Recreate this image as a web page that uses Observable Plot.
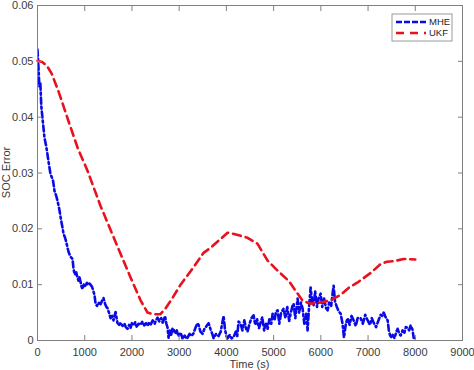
<!DOCTYPE html>
<html>
<head>
<meta charset="utf-8">
<script src="https://cdn.jsdelivr.net/npm/d3@7"></script>
<script src="https://cdn.jsdelivr.net/npm/@observablehq/plot@0.6"></script>
<style>
  html, body { margin: 0; padding: 0; background: #fff; }
  #chart svg { display: block; font-family: "Liberation Sans", Arial, sans-serif; }
</style>
</head>
<body>
<div id="chart"></div>
<script>
const seriesNames = ["MHE", "UKF"];
const xTicks = [0, 1000, 2000, 3000, 4000, 5000, 6000, 7000, 8000, 9000];
const yTicks = [0, 0.01, 0.02, 0.03, 0.04, 0.05, 0.06];
const xLabel = "Time (s)";
const yLabel = "SOC Error";

const ukf = [[0,0.0501],[100,0.0499],[200,0.0492],[300,0.0478],[450,0.0445],[636,0.0398],[850,0.0345],[1059,0.0304],[1335,0.0241],[1695,0.0168],[1970,0.0113],[2182,0.0072],[2330,0.0050],[2450,0.0047],[2600,0.0047],[2700,0.0056],[2850,0.0075],[3030,0.0100],[3250,0.0125],[3517,0.0157],[3665,0.0166],[3850,0.0180],[4025,0.0193],[4200,0.0190],[4449,0.0184],[4661,0.0173],[4873,0.0143],[5085,0.0125],[5318,0.0107],[5508,0.0084],[5614,0.0071],[5784,0.0066],[5996,0.0068],[6208,0.0072],[6419,0.0082],[6600,0.0095],[6780,0.0104],[7055,0.0121],[7267,0.0137],[7400,0.0141],[7542,0.0142],[7754,0.0146],[8000,0.0145]];

const mhe = [[0,0.0521],[20,0.049],[40,0.0455],[60,0.0462],[80,0.042],[106,0.0398],[130,0.0378],[148,0.0363],[175,0.0352],[200,0.0340],[230,0.0322],[275,0.0298],[300,0.0293],[330,0.0286],[360,0.0268],[400,0.0258],[424,0.0250],[460,0.0236],[500,0.0215],[530,0.0202],[551,0.0191],[580,0.0185],[610,0.0176],[636,0.0166],[660,0.0158],[700,0.0150],[742,0.0146],[763,0.0128],[790,0.0118],[820,0.0122],[847,0.0112],[870,0.0107],[890,0.0113],[911,0.0105],[935,0.0096],[953,0.0092],[980,0.0100],[1010,0.0098],[1040,0.0104],[1059,0.0101],[1090,0.0104],[1120,0.0100],[1150,0.0097],[1180,0.0090],[1210,0.0080],[1229,0.0066],[1260,0.0062],[1290,0.0068],[1335,0.0065],[1370,0.0072],[1398,0.0076],[1430,0.0066],[1460,0.0060],[1483,0.0058],[1520,0.0048],[1547,0.0040],[1580,0.0044],[1610,0.0036],[1653,0.0051],[1680,0.0038],[1695,0.0031],[1730,0.0028],[1760,0.0032],[1800,0.0026],[1840,0.0030],[1870,0.0024],[1907,0.0021],[1940,0.0028],[1970,0.0022],[2000,0.0031],[2034,0.0027],[2070,0.0033],[2100,0.0025],[2140,0.0030],[2182,0.0028],[2220,0.0034],[2260,0.0027],[2300,0.0031],[2330,0.0026],[2370,0.0033],[2400,0.0029],[2440,0.0036],[2480,0.0030],[2520,0.0038],[2542,0.0041],[2580,0.0034],[2620,0.0040],[2650,0.0032],[2670,0.0036],[2700,0.0044],[2730,0.0030],[2754,0.0023],[2775,0.0005],[2800,0.0018],[2830,0.0010],[2860,0.0022],[2881,0.0020],[2920,0.0012],[2950,0.0018],[2980,0.0008],[3030,0.0014],[3070,0.0004],[3110,0.0010],[3150,0.0003],[3178,0.0005],[3220,0.0012],[3260,0.0008],[3305,0.0013],[3350,0.0024],[3390,0.0031],[3411,0.0028],[3450,0.0016],[3496,0.0012],[3530,0.0020],[3580,0.0026],[3623,0.0031],[3665,0.0020],[3708,0.0010],[3729,0.0004],[3780,0.0012],[3835,0.0008],[3880,0.0016],[3910,0.0030],[3941,0.0044],[3970,0.0020],[4000,0.0008],[4025,0.0004],[4070,0.0010],[4110,0.0004],[4153,0.0006],[4200,0.0016],[4230,0.0008],[4258,0.0034],[4300,0.0030],[4340,0.0018],[4380,0.0036],[4420,0.0020],[4449,0.0016],[4490,0.0030],[4530,0.0040],[4576,0.0045],[4610,0.0028],[4650,0.0038],[4690,0.0022],[4725,0.0032],[4760,0.0042],[4800,0.0018],[4840,0.0030],[4873,0.0021],[4910,0.0038],[4950,0.0030],[4979,0.0048],[5020,0.0036],[5050,0.0052],[5085,0.0054],[5120,0.0030],[5160,0.0050],[5212,0.0057],[5250,0.0040],[5290,0.0060],[5330,0.0035],[5360,0.0048],[5400,0.0062],[5424,0.0066],[5460,0.0040],[5508,0.0075],[5540,0.0050],[5580,0.0068],[5614,0.0057],[5650,0.0030],[5690,0.0048],[5720,0.0018],[5750,0.0060],[5784,0.0095],[5815,0.0070],[5847,0.0063],[5880,0.0088],[5920,0.0060],[5960,0.0078],[5996,0.0084],[6030,0.0060],[6070,0.0075],[6110,0.0058],[6144,0.0054],[6180,0.0070],[6220,0.0062],[6250,0.0085],[6271,0.0098],[6300,0.0070],[6340,0.0060],[6380,0.0052],[6419,0.0048],[6460,0.0030],[6490,0.0005],[6530,0.0030],[6568,0.0040],[6610,0.0028],[6650,0.0044],[6695,0.0036],[6740,0.0026],[6780,0.0040],[6843,0.0040],[6890,0.0030],[6940,0.0046],[6992,0.0036],[7040,0.0028],[7080,0.0040],[7119,0.0032],[7170,0.0024],[7220,0.0036],[7267,0.0046],[7300,0.0044],[7331,0.0050],[7370,0.0042],[7415,0.0036],[7440,0.0018],[7479,0.0005],[7520,0.0010],[7560,0.0004],[7600,0.0016],[7627,0.0021],[7660,0.0012],[7690,0.0009],[7730,0.0018],[7770,0.0014],[7800,0.0024],[7839,0.0023],[7870,0.0018],[7902,0.0027],[7940,0.0020],[7966,0.0005],[8000,0.0004]];

const colors = {MHE: "#0a0ae6", UKF: "#e8121e"};
const dashes = {MHE: "6,3,2,3", UKF: "8,5"};
const axisColor = "#808080";
const textColor = "#3a3a3a";

const fmtY = d => d === 0 ? "0" : d3.format(".2f")(d);

const plot = Plot.plot({
  width: 474,
  height: 370,
  marginLeft: 37,
  marginRight: 12,
  marginTop: 5,
  marginBottom: 30,
  style: {fontFamily: "Liberation Sans, Arial, sans-serif", fontSize: "11px", color: textColor, background: "#fff"},
  x: {domain: [0, 9000]},
  y: {domain: [0, 0.06]},
  marks: [
    Plot.line(mhe, {x: d => d[0], y: d => d[1], stroke: colors.MHE, strokeWidth: 2.6, strokeDasharray: dashes.MHE, clip: true}),
    Plot.line(ukf, {x: d => d[0], y: d => d[1], stroke: colors.UKF, strokeWidth: 2.6, strokeDasharray: dashes.UKF}),
    Plot.frame({stroke: axisColor}),
    Plot.axisX({anchor: "bottom", ticks: xTicks, tickSize: -5, tickPadding: 13, stroke: axisColor, label: null, tickFormat: d => String(d)}),
    Plot.axisX({anchor: "top", ticks: xTicks, tickSize: -5, tickFormat: () => "", stroke: axisColor, label: null}),
    Plot.axisY({anchor: "left", ticks: yTicks, tickSize: -5, tickPadding: 9, stroke: axisColor, label: null, tickFormat: fmtY}),
    Plot.axisY({anchor: "right", ticks: yTicks, tickSize: -5, tickFormat: () => "", stroke: axisColor, label: null})
  ]
});
document.getElementById("chart").appendChild(plot);

const svg = d3.select(plot);
// axis titles
svg.append("text").attr("x", (37 + 462) / 2).attr("y", 364).attr("dy", "0.35em")
  .attr("text-anchor", "middle").attr("font-size", 11).attr("fill", textColor).text(xLabel);
svg.append("text").attr("transform", `translate(6.5,${(5 + 340) / 2}) rotate(-90)`).attr("dy", "0.35em")
  .attr("text-anchor", "middle").attr("font-size", 11).attr("fill", textColor).text(yLabel);

// Legend box (top right, inside plot area)
const lg = svg.append("g").attr("transform", "translate(392,14)");
lg.append("rect").attr("width", 60).attr("height", 27).attr("fill", "#fff").attr("stroke", "#9a9a9a").attr("stroke-width", 1);
seriesNames.forEach((name, i) => {
  const yy = 8 + i * 11;
  lg.append("line").attr("x1", 4).attr("x2", 34).attr("y1", yy).attr("y2", yy)
    .attr("stroke", colors[name]).attr("stroke-width", 2.4).attr("stroke-dasharray", name === "MHE" ? "6,2" : "8,6");
  lg.append("text").attr("x", 37).attr("y", yy).attr("dy", "0.35em").attr("text-anchor", "start")
    .attr("font-size", 9.5).attr("fill", "#222").text(name);
});
</script>
</body>
</html>
